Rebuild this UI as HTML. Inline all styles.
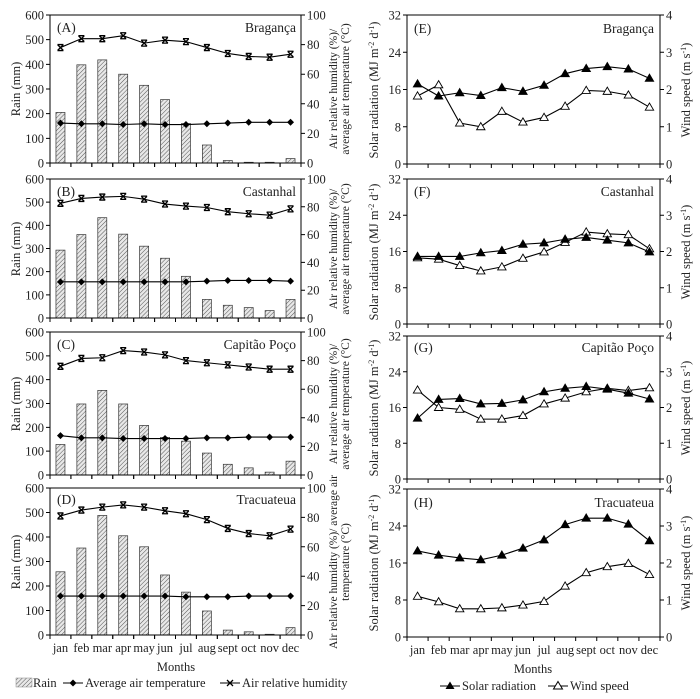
<!DOCTYPE html>
<html><head><meta charset="utf-8"><style>
body{margin:0;background:#fff}
svg{display:block;font-family:"Liberation Serif",serif;}
</style></head><body>
<svg id="s" width="700" height="699" viewBox="0 0 700 699" xmlns="http://www.w3.org/2000/svg">
<defs>
<pattern id="h" width="3" height="3" patternUnits="userSpaceOnUse" patternTransform="rotate(45)">
<rect width="3" height="3" fill="#e8e8e8"/><line x1="0" y1="0" x2="0" y2="3" stroke="#555" stroke-width="1"/>
</pattern>
</defs>
<g id="g"></g>
<!-- axis titles -->
<g font-size="12.5" fill="#222">
<text transform="translate(20,89) rotate(-90)" text-anchor="middle">Rain (mm)</text>
<text transform="translate(20,249) rotate(-90)" text-anchor="middle">Rain (mm)</text>
<text transform="translate(20,404) rotate(-90)" text-anchor="middle">Rain (mm)</text>
<text transform="translate(20,562) rotate(-90)" text-anchor="middle">Rain (mm)</text>
<text transform="translate(337,89) rotate(-90)" text-anchor="middle" font-size="11.5">Air relative humidity (%)/</text>
<text transform="translate(349,89) rotate(-90)" text-anchor="middle" font-size="11.5">average air temperature (°C)</text>
<text transform="translate(337,249) rotate(-90)" text-anchor="middle" font-size="11.5">Air relative humidity (%)/</text>
<text transform="translate(349,249) rotate(-90)" text-anchor="middle" font-size="11.5">average air temperature (°C)</text>
<text transform="translate(337,404) rotate(-90)" text-anchor="middle" font-size="11.5">Air relative humidity (%)/</text>
<text transform="translate(349,404) rotate(-90)" text-anchor="middle" font-size="11.5">average air temperature (°C)</text>
<text transform="translate(337,562) rotate(-90)" text-anchor="middle" font-size="11.5">Air relative humidity (%)/ average air</text>
<text transform="translate(349,562) rotate(-90)" text-anchor="middle" font-size="11.5">temperature (°C)</text>
<text transform="translate(378,90) rotate(-90)" text-anchor="middle">Solar radiation (MJ m<tspan font-size="8" dy="-4">-2</tspan><tspan dy="4"> d</tspan><tspan font-size="8" dy="-4">-1</tspan><tspan dy="4">)</tspan></text>
<text transform="translate(378,252) rotate(-90)" text-anchor="middle">Solar radiation (MJ m<tspan font-size="8" dy="-4">-2</tspan><tspan dy="4"> d</tspan><tspan font-size="8" dy="-4">-1</tspan><tspan dy="4">)</tspan></text>
<text transform="translate(378,408) rotate(-90)" text-anchor="middle">Solar radiation (MJ m<tspan font-size="8" dy="-4">-2</tspan><tspan dy="4"> d</tspan><tspan font-size="8" dy="-4">-1</tspan><tspan dy="4">)</tspan></text>
<text transform="translate(378,563) rotate(-90)" text-anchor="middle">Solar radiation (MJ m<tspan font-size="8" dy="-4">-2</tspan><tspan dy="4"> d</tspan><tspan font-size="8" dy="-4">-1</tspan><tspan dy="4">)</tspan></text>
<text transform="translate(690,90) rotate(-90)" text-anchor="middle">Wind speed (m s<tspan font-size="8" dy="-4">-1</tspan><tspan dy="4">)</tspan></text>
<text transform="translate(690,252) rotate(-90)" text-anchor="middle">Wind speed (m s<tspan font-size="8" dy="-4">-1</tspan><tspan dy="4">)</tspan></text>
<text transform="translate(690,408) rotate(-90)" text-anchor="middle">Wind speed (m s<tspan font-size="8" dy="-4">-1</tspan><tspan dy="4">)</tspan></text>
<text transform="translate(690,563) rotate(-90)" text-anchor="middle">Wind speed (m s<tspan font-size="8" dy="-4">-1</tspan><tspan dy="4">)</tspan></text>
<text x="176" y="671" text-anchor="middle">Months</text>
<text x="533" y="673" text-anchor="middle">Months</text>
</g>
<g font-size="13.5" fill="#222">
<text x="57" y="32">(A)</text><text x="296" y="32" text-anchor="end">Bragança</text>
<text x="57" y="196">(B)</text><text x="296" y="196" text-anchor="end">Castanhal</text>
<text x="57" y="349">(C)</text><text x="296" y="349" text-anchor="end">Capitão  Poço</text>
<text x="57" y="504">(D)</text><text x="296" y="504" text-anchor="end">Tracuateua</text>
<text x="414" y="33">(E)</text><text x="654" y="33" text-anchor="end">Bragança</text>
<text x="414" y="196">(F)</text><text x="654" y="196" text-anchor="end">Castanhal</text>
<text x="414" y="352">(G)</text><text x="654" y="352" text-anchor="end">Capitão  Poço</text>
<text x="414" y="507">(H)</text><text x="654" y="507" text-anchor="end">Tracuateua</text>
</g>
<!-- legends -->
<g font-size="12.5" fill="#222">
<rect x="16" y="678" width="16" height="9" fill="url(#h)" stroke="#888" stroke-width="0.5"/>
<text x="33" y="687">Rain</text>
<line x1="63" y1="683" x2="83" y2="683" stroke="#000"/><path d="M73 679.5 L76.5 683 L73 686.5 L69.5 683Z" fill="#000"/>
<text x="85" y="687">Average air temperature</text>
<line x1="220" y1="683" x2="240" y2="683" stroke="#000"/><path d="M227 680 L233 686 M233 680 L227 686" stroke="#000" stroke-width="1.3"/>
<text x="242" y="687">Air relative humidity</text>
<line x1="440" y1="686" x2="460" y2="686" stroke="#000"/><path d="M450 681.5 L454.5 689 L445.5 689Z" fill="#000"/>
<text x="462" y="690">Solar radiation</text>
<line x1="548" y1="686" x2="568" y2="686" stroke="#000"/><path d="M558 681.5 L562.5 689 L553.5 689Z" fill="#fff" stroke="#000"/>
<text x="570" y="690">Wind speed</text>
</g>
</svg>
<script>
var g=document.getElementById('g'),NS='http://www.w3.org/2000/svg';
var out='';
var months=['jan','feb','mar','apr','may','jun','jul','aug','sept','oct','nov','dec'];
function T(x,y,s,a,fs){out+='<text x="'+x+'" y="'+y+'" text-anchor="'+(a||'start')+'" font-size="'+(fs||12.5)+'" fill="#222">'+s+'</text>';}
var L=[
{t:15,b:163,rain:[205,398,418,360,315,257,160,73,10,3,3,18],hum:[78,84,84,86,81,83,82,78,74,72,71.5,73.5],tmp:[27,26.5,26.5,26,26.5,26,26,26.5,27,27.5,27.5,27.5]},
{t:179,b:318,rain:[293,360,433,362,310,258,180,80,55,45,32,80],hum:[82.5,86,87,87.5,85.5,82,80.5,79.5,76.5,75,74,78.5],tmp:[26,26,26,26,26,26,26,26.5,27,27,27,26.5]},
{t:332,b:475,rain:[128,298,355,298,208,158,142,92,45,30,12,58],hum:[76,81.5,82,87,86,84,80,78.5,77,75.5,74,74],tmp:[27.5,26,26,25.5,25.5,25.5,25.5,26,26,26.5,26.5,26.5]},
{t:488,b:635,rain:[258,355,488,405,360,245,175,98,20,13,3,30],hum:[81,85,87,88.5,87,84.5,82.5,78.5,72.5,69,67.5,72],tmp:[26.5,26.5,26.5,26.5,26.5,26.5,26,26,26,26.5,26.5,26.5]}];
var R=[
{t:15,b:164,s:[17.2,14.6,15.3,14.7,16.4,15.6,16.9,19.4,20.5,20.9,20.4,18.4],w:[14.6,17,8.8,8,11.3,9,10,12.4,15.8,15.6,14.8,12.2]},
{t:179,b:324,s:[14.9,14.9,14.9,15.7,16.2,17.6,17.9,18.7,19.1,18.5,17.9,15.9],w:[14.6,14.3,12.9,11.7,12.6,14.5,15.9,18,20.3,19.9,19.7,16.6]},
{t:336,b:479,s:[13.6,17.8,18,16.8,16.9,17.7,19.5,20.3,20.7,20.1,19.2,17.9],w:[19.9,16,15.6,13.4,13.4,14.2,16.8,18.1,19.5,20.3,19.8,20.4]},
{t:489,b:637,s:[18.6,17.7,17.1,16.7,17.7,19.2,21,24.3,25.7,25.7,24.4,20.8],w:[8.8,7.6,6.1,6.1,6.3,6.9,7.7,11,13.9,15.2,15.9,13.5]}];
function frame(x0,x1,t,b,lt,rt,n,last){
 var s='M'+x0+' '+t+' L'+x1+' '+t+' M'+x0+' '+t+' L'+x0+' '+b+' L'+x1+' '+b+' M'+x1+' '+t+' L'+x1+' '+b;
 for(var i=0;i<n;i++){var y=b-(b-t)*i/(n-1);s+=' M'+(x0-4)+' '+y+' L'+x0+' '+y+' M'+x1+' '+y+' L'+(x1+4)+' '+y;
  T(x0-6,y+4.5,lt[i],'end');T(x1+6,y+4.5,rt[i],'start');}
 var w=(x1-x0)/12;for(var i=0;i<=12;i++){var x=x0+w*i;s+=' M'+x+' '+b+' L'+x+' '+(b+4);}
 out+='<path d="'+s+'" stroke="#000" stroke-width="1" fill="none"/>';
 if(last)for(var i=0;i<12;i++)T(x0+w*(i+.5),b+17,months[i],'middle');
}
L.forEach(function(p,k){
 var x0=50,x1=301,w=(x1-x0)/12,h=p.b-p.t;
 p.rain.forEach(function(v,i){var c=x0+w*(i+.5),y=p.b-h*v/600;
  out+='<rect x="'+(c-4.5)+'" y="'+y+'" width="9" height="'+(p.b-y)+'" fill="url(#h)" stroke="#333" stroke-width="0.7"/>';});
 function line(arr,mk){var pts=arr.map(function(v,i){return [x0+w*(i+.5),p.b-h*v/100];});
  out+='<polyline points="'+pts.join(' ')+'" fill="none" stroke="#000" stroke-width="1.1"/>';
  pts.forEach(function(q){var x=q[0],y=q[1];
   if(mk=='d')out+='<path d="M'+x+' '+(y-3.5)+' L'+(x+3.5)+' '+y+' L'+x+' '+(y+3.5)+' L'+(x-3.5)+' '+y+'Z"/>';
   else out+='<path d="M'+(x-2.8)+' '+(y-2.8)+' L'+(x+2.8)+' '+(y+2.8)+' M'+(x+2.8)+' '+(y-2.8)+' L'+(x-2.8)+' '+(y+2.8)+' M'+(x-3)+' '+(y-3)+' L'+(x+3)+' '+(y-3)+' M'+(x-3)+' '+(y+3)+' L'+(x+3)+' '+(y+3)+'" stroke="#000" stroke-width="1.3"/>';});}
 line(p.hum,'x');line(p.tmp,'d');
 frame(x0,x1,p.t,p.b,['0','100','200','300','400','500','600'],['0','20','40','60','80','100'].reduce(function(a,v,i){return a;},[]),0,false);
 var s='',lt=['0','100','200','300','400','500','600'],rt=['0','20','40','60','80','100'];
 for(var i=0;i<7;i++){var y=p.b-h*i/6;s+=' M'+(x0-4)+' '+y+' L'+x0+' '+y;T(x0-6,y+4.5,lt[i],'end');}
 for(var i=0;i<6;i++){var y=p.b-h*i/5;s+=' M'+x1+' '+y+' L'+(x1+4)+' '+y;T(x1+6,y+4.5,rt[i],'start');}
 for(var i=0;i<=12;i++){var x=x0+w*i;s+=' M'+x+' '+p.b+' L'+x+' '+(p.b+4);}
 out+='<path d="M'+x0+' '+p.t+' L'+x1+' '+p.t+' M'+x0+' '+p.t+' L'+x0+' '+p.b+' L'+x1+' '+p.b+' M'+x1+' '+p.t+' L'+x1+' '+p.b+s+'" stroke="#000" fill="none"/>';
 if(k==3)for(var i=0;i<12;i++)T(x0+w*(i+.5),p.b+17,months[i],'middle');
});
R.forEach(function(p,k){
 var x0=407,x1=660,w=(x1-x0)/12,h=p.b-p.t;
 function line(arr,fill){var pts=arr.map(function(v,i){return [x0+w*(i+.5),p.b-h*v/32];});
  out+='<polyline points="'+pts.join(' ')+'" fill="none" stroke="#000" stroke-width="1.1"/>';
  pts.forEach(function(q){var x=q[0],y=q[1];
   out+='<path d="M'+x+' '+(y-4.2)+' L'+(x+4.2)+' '+(y+3)+' L'+(x-4.2)+' '+(y+3)+'Z" fill="'+fill+'" stroke="#000" stroke-width="0.9"/>';});}
 line(p.w,'#fff');line(p.s,'#000');
 var s='',lt=['0','8','16','24','32'],rt=['0','1','2','3','4'];
 for(var i=0;i<5;i++){var y=p.b-h*i/4;s+=' M'+(x0-4)+' '+y+' L'+x0+' '+y+' M'+x1+' '+y+' L'+(x1+4)+' '+y;T(x0-6,y+4.5,lt[i],'end');T(x1+6,y+4.5,rt[i],'start');}
 for(var i=0;i<=12;i++){var x=x0+w*i;s+=' M'+x+' '+p.b+' L'+x+' '+(p.b+4);}
 out+='<path d="M'+x0+' '+p.t+' L'+x1+' '+p.t+' M'+x0+' '+p.t+' L'+x0+' '+p.b+' L'+x1+' '+p.b+' M'+x1+' '+p.t+' L'+x1+' '+p.b+s+'" stroke="#000" fill="none"/>';
 if(k==3)for(var i=0;i<12;i++)T(x0+w*(i+.5),p.b+17,months[i],'middle');
});
g.innerHTML=out;
</script>
</body></html>
